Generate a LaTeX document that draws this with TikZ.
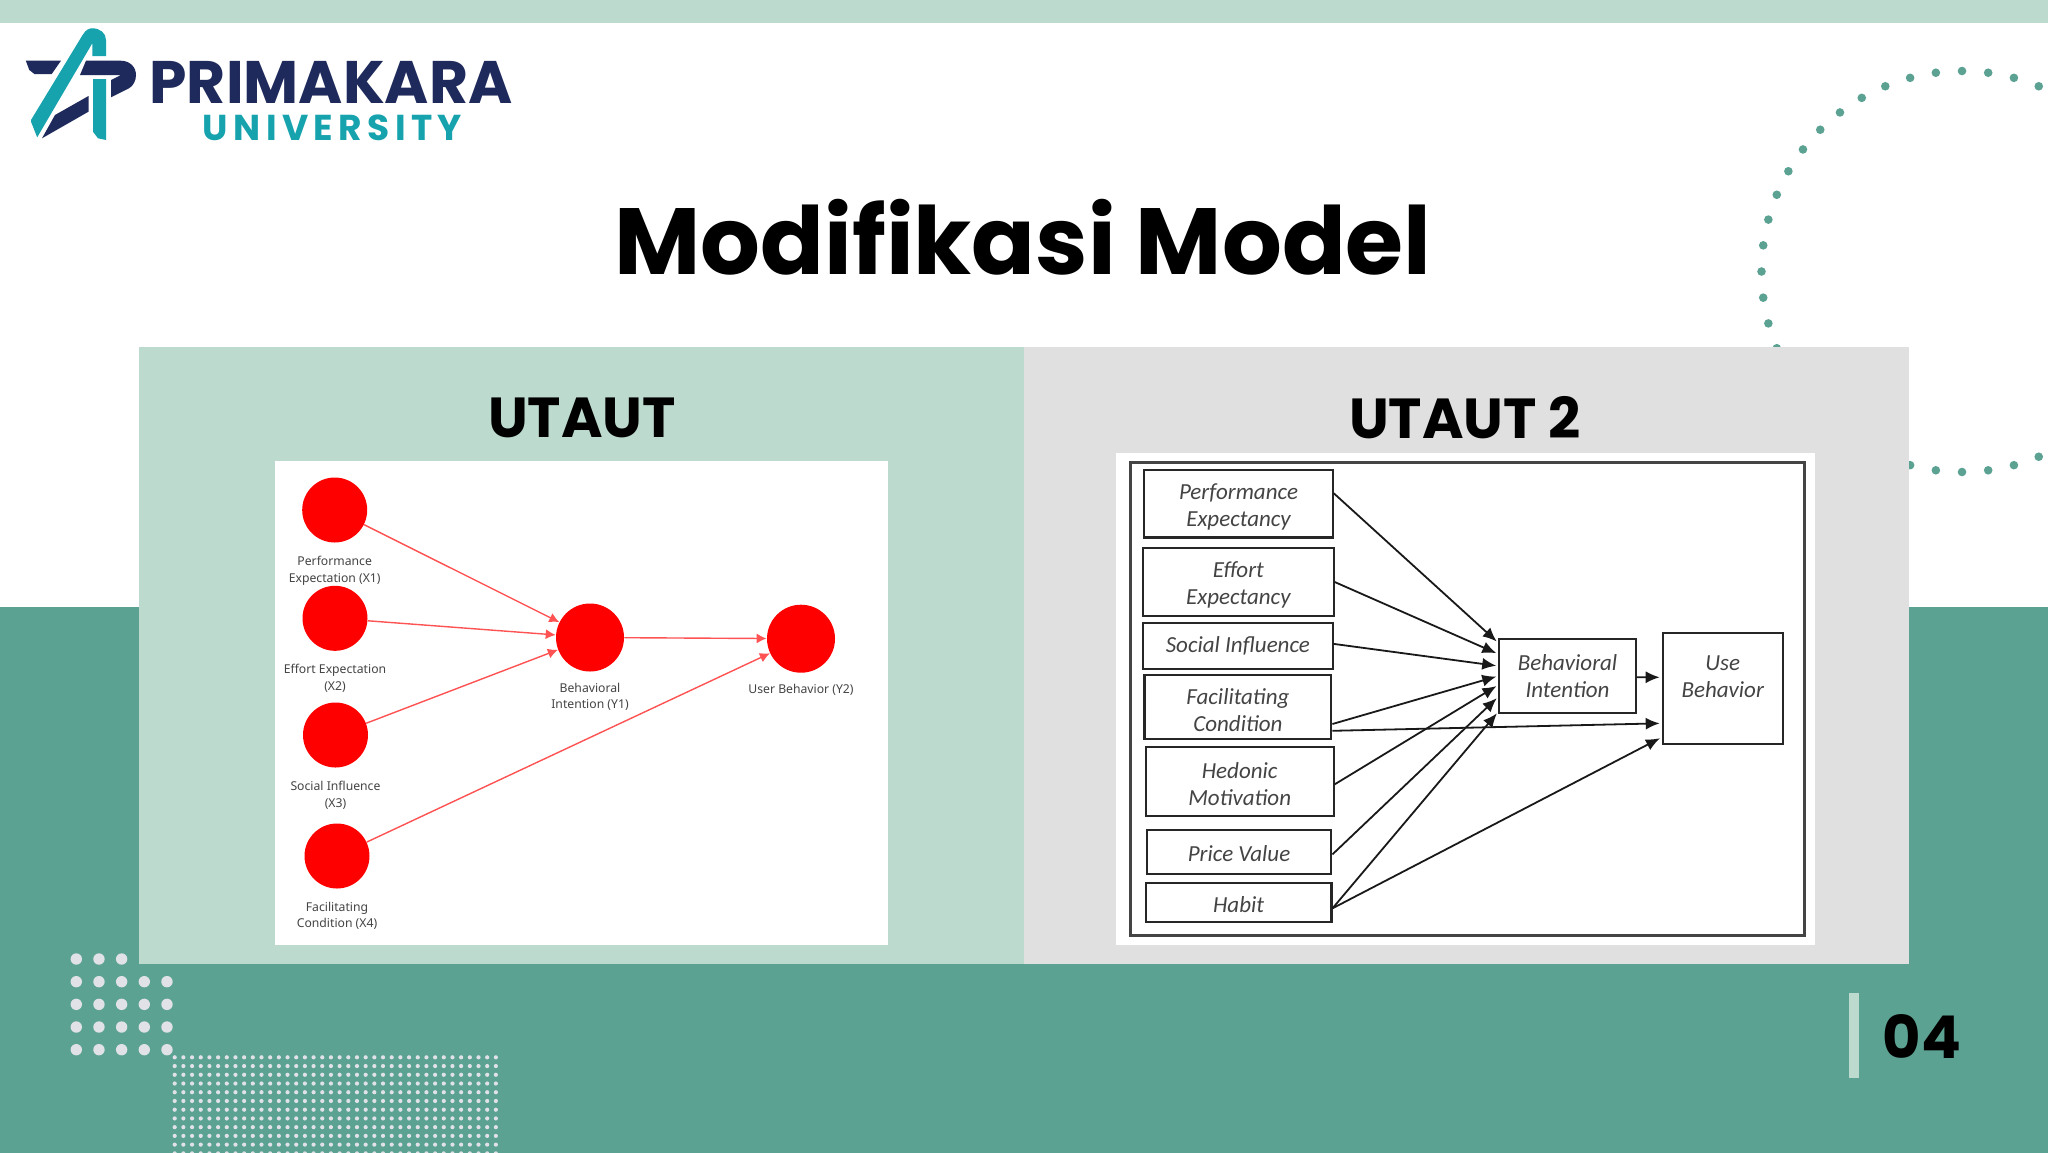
\documentclass[tikz,border=0pt]{standalone}
\usepackage{fontspec}
\setmainfont{Poppins}
\newfontfamily\plsfont{Noto Sans}
\newfontfamily\modelfont{Carlito}
\newfontfamily\unifont[LetterSpace=15]{Poppins}
\usetikzlibrary{
  arrows.meta,
  positioning,     % labels below the circles
  calc
}
\definecolor{mint}{RGB}{188,219,206}
\definecolor{sea}{RGB}{92,162,147}
\definecolor{panelgrey}{RGB}{224,224,224}
\definecolor{dotgrey}{RGB}{224,226,231}
\definecolor{navy}{RGB}{31,42,92}
\definecolor{logoteal}{RGB}{22,163,174}
\definecolor{pencil}{RGB}{68,68,68}
\newcommand{\firstline}[1]{\rule{0pt}{#1}}
\tikzset{
  x=0.5pt, y=-0.5pt,
  heading/.style = {font=\bfseries\fontsize{47}{56}\selectfont, text=black, inner sep=0pt},
  paneltitle/.style = {font=\bfseries\fontsize{28.2}{34}\selectfont, text=black, inner sep=0pt},
  latent/.style = {circle, fill=red, minimum size=32.5pt, inner sep=0pt},
  latentwide/.style = {latent, minimum size=34pt},
  latentname/.style = {font=\plsfont\fontsize{6.1}{8.2}\selectfont, text=pencil, align=center, inner sep=0pt},
  pathred/.style = {-{Latex[length=5pt,width=5pt]}, draw=red!68!white, line width=0.7pt},
  modelbox/.style = {draw=black!85, line width=1.1pt, fill=white, align=center, inner sep=0pt,
    font=\modelfont\itshape\fontsize{11.5}{13.5}\selectfont, text=pencil},
  pathblack/.style = {-{Latex[length=7pt,width=6pt]}, draw=black!90, line width=0.9pt, shorten >=1pt},
}
\begin{document}
\begin{tikzpicture}
\useasboundingbox (0,0) rectangle (2048,1152);
\fill[white] (0,0) rectangle (2048,1152);
\fill[mint] (0,0) rectangle (2048,23);
\fill[sea] (0,607) rectangle (2048,1160);

% ring of dots, right
\coordinate (ring) at (1962,271.5);
\foreach \a in {60,67.5,...,300}
  \fill[sea] ([shift={(\a:100.25pt)}]ring) circle[radius=2.15pt];

% dot fields, bottom left
\foreach \i in {0,...,4} \foreach \j in {0,...,4} {
  \ifnum\j=0 \ifnum\i>2 \else \fill[dotgrey] (76.3+22.67*\i,959+22.67*\j) circle[radius=2.85pt]; \fi
  \else \fill[dotgrey] (76.3+22.67*\i,959+22.67*\j) circle[radius=2.85pt]; \fi
}
\foreach \i in {0,...,37} \foreach \j in {0,...,11}
  \fill[dotgrey] (174.7+8.68*\i,1057.3+8.73*\j) circle[radius=1.05pt];

% logo
\fill[logoteal] (31,120) -- (82.6,35) .. controls (86,29) and (90,28.3) .. (92.3,28.3)
  .. controls (100,28.3) and (106,33) .. (106,40) -- (106,56) -- (92.3,56) -- (92.3,43.3)
  -- (37.2,137.3) -- (31,121.7) -- cycle;
\fill[logoteal] (93,79) -- (106,79) -- (106,140) -- (98,138.3) -- (93,131.7) -- cycle;
\fill[navy] (25.8,60.7) -- (61,60.7) -- (51.7,74) -- (34.4,74) -- (29.3,70) -- cycle;
\fill[navy] (86,60.7) -- (120.5,60.7) .. controls (130,60.7) and (136,67) .. (136,75)
  .. controls (136,81) and (133,86) .. (129,88.3) -- (111,97.3) -- (111,80) -- (121,75) -- (80,75) -- cycle;
\fill[navy] (88.5,96) -- (88.5,111.7) -- (42,138.3) -- (55,115) -- cycle;
\node[font=\bfseries\fontsize{30}{32}\selectfont, text=navy, inner sep=0pt] (brand) at (331,82.5) {PRIMAKARA};
\node[font=\unifont\bfseries\fontsize{18}{20}\selectfont, text=logoteal, inner sep=0pt] (uni) at (332.5,127.5) {UNIVERSITY};

\node[heading] (title) at (1023,237) {Modifikasi Model};

% panels
\fill[mint] (139,347) rectangle (1024,964);
\fill[panelgrey] (1024,347) rectangle (1909,964);
\node[paneltitle] (utaut) at (582,418) {UTAUT};
\node[paneltitle] (utauttwo) at (1465,418) {UTAUT 2};
\fill[white] (275,461) rectangle (888,945);
\fill[white] (1116,453) rectangle (1815,945);

% left model
\node[latent] (xone) at (334.7,510) {};
\node[latent] (xtwo) at (335,618.3) {};
\node[latent] (xthree) at (335.5,735) {};
\node[latent] (xfour) at (337,856) {};
\node[latentwide] (yone) at (590,637.5) {};
\node[latentwide] (ytwo) at (801,638.7) {};
\node[latentname, below=6.5pt of xone] (xonename) {Performance\\Expectation (X1)};
\node[latentname, below=6.5pt of xtwo] (xtwoname) {Effort Expectation\\(X2)};
\node[latentname, below=6.5pt of xthree] (xthreename) {Social Influence\\(X3)};
\node[latentname, below=6.5pt of xfour] (xfourname) {Facilitating\\Condition (X4)};
\node[latentname, below=5.5pt of yone] (yonename) {Behavioral\\Intention (Y1)};
\node[latentname, below=5.5pt of ytwo] (ytwoname) {User Behavior (Y2)};
\draw[pathred] (xone) -- (yone);
\draw[pathred] (xtwo) -- (yone);
\draw[pathred] (xthree) -- (yone);
\draw[pathred] (xfour) -- (ytwo);
\draw[pathred] (yone) -- (ytwo);

% right model
\draw[draw=pencil, line width=1.5pt] (1130.7,462.7) rectangle (1804,935);
\node[modelbox, minimum width=94.2pt, minimum height=33.7pt] (pe) at (1238.5,503.7) {\firstline{11pt}Performance\\Expectancy};
\node[modelbox, minimum width=95.3pt, minimum height=33.7pt] (ee) at (1238.3,582) {\firstline{11pt}Effort\\Expectancy};
\node[modelbox, minimum width=94.8pt, minimum height=23.2pt] (si) at (1237.9,645.9) {Social Influence};
\node[modelbox, minimum width=93.4pt, minimum height=32pt] (fc) at (1237.9,707) {\firstline{11pt}Facilitating\\Condition};
\node[modelbox, minimum width=93.9pt, minimum height=34.2pt] (hm) at (1239.7,781.5) {\firstline{11pt}Hedonic\\Motivation};
\node[modelbox, minimum width=92.3pt, minimum height=22pt] (pv) at (1239,852) {\firstline{9.6pt}Price Value};
\node[modelbox, minimum width=92.8pt, minimum height=19.8pt] (hb) at (1238.6,902.5) {\firstline{9.6pt}Habit};
\node[modelbox, minimum width=68.2pt, minimum height=36.7pt] (bi) at (1567.5,676) {Behavioral\\Intention};
\node[modelbox, minimum width=59.9pt, minimum height=55.4pt] (ub) at (1722.7,688.7) {Use\\Behavior\rule[-11.6pt]{0pt}{0pt}};
\foreach \from/\fromy/\to/\toy in {pe/5.2/bi/16.6, ee/0/bi/11, si/1/bi/5, fc/-8.5/bi/0, hm/-1.4/bi/-4.5,
    pv/-1.2/bi/-10.4, hb/-2.9/bi/-17.9, fc/-11.9/ub/-17.3, hb/-2.9/ub/-24.3, bi/-0.6/ub/5.7}
  \draw[pathblack] ([yshift=\fromy pt]\from.east) -- ([yshift=\toy pt]\to.west);

% page number
\fill[mint] (1849,993) rectangle (1859,1078);
\node[font=\bfseries\fontsize{29.5}{36}\selectfont, text=black, inner sep=0pt] (page) at (1922,1037) {04};
\end{tikzpicture}
\end{document}
